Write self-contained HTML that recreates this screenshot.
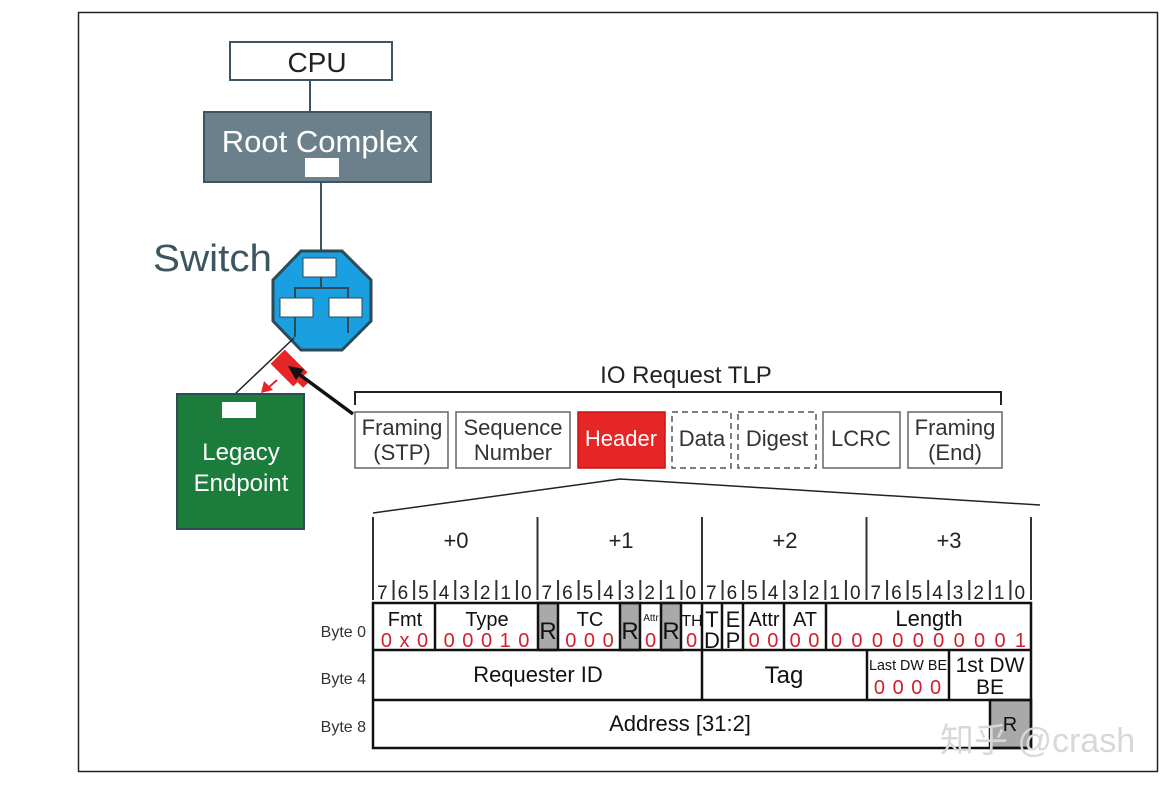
<!DOCTYPE html>
<html><head><meta charset="utf-8"><style>
html,body{margin:0;padding:0;background:#fff;width:1175px;height:787px;overflow:hidden}
svg{display:block;font-family:"Liberation Sans",sans-serif}
</style></head><body>
<svg id="s" width="1175" height="787" viewBox="0 0 1175 787" xmlns="http://www.w3.org/2000/svg">
<rect x="78.5" y="12.5" width="1079" height="759" fill="#fff" stroke="#222" stroke-width="1.5"/>
<rect x="230" y="42" width="162" height="38" fill="#fff" stroke="#3d5560" stroke-width="2"/>
<text x="317" y="72" font-size="28" text-anchor="middle" fill="#222">CPU</text>
<line x1="310" y1="80" x2="310" y2="112" stroke="#3d5560" stroke-width="2"/>
<rect x="204" y="112" width="227" height="70" fill="#6c808b" stroke="#3d5560" stroke-width="2"/>
<text x="320" y="152" font-size="31" text-anchor="middle" fill="#fff">Root Complex</text>
<rect x="305" y="158" width="34" height="19" fill="#fff"/>
<line x1="321" y1="182" x2="321" y2="252" stroke="#3d5560" stroke-width="2"/>
<text x="153" y="271" font-size="38" fill="#3d5560" textLength="119" lengthAdjust="spacingAndGlyphs">Switch</text>
<polygon points="301,251 342,251 371,280 371,321 342,350 301,350 273,321 273,280" fill="#1a9fe0" stroke="#2d4a55" stroke-width="3"/>
<rect x="303" y="258" width="33" height="19" fill="#fff" stroke="#2d4a55"/>
<line x1="321" y1="277" x2="321" y2="288" stroke="#2d4a55" stroke-width="2"/>
<polyline points="295,337 295,288 348,288 348,333" fill="none" stroke="#2d4a55" stroke-width="2"/>
<rect x="280" y="298" width="33" height="19" fill="#fff" stroke="#2d4a55"/>
<rect x="329" y="298" width="33" height="19" fill="#fff" stroke="#2d4a55"/>
<line x1="294" y1="338" x2="235" y2="394" stroke="#222" stroke-width="1.5"/>
<g transform="translate(289,368) rotate(-45)">
<rect x="-10" y="-16" width="20" height="32" fill="#e52526"/>
<rect x="-4" y="16" width="8" height="8" fill="#e52526"/>
</g>
<line x1="277" y1="380" x2="268" y2="388" stroke="#e52526" stroke-width="2"/>
<polygon points="261,393 264,381 273,390" fill="#e52526"/>
<line x1="353" y1="414" x2="296" y2="372" stroke="#111" stroke-width="3.5"/>
<polygon points="288,366 304,369 296,380" fill="#111"/>
<rect x="177" y="394" width="127" height="135" fill="#1b7c3c" stroke="#2d4a55" stroke-width="2"/>
<rect x="222" y="402" width="34" height="16" fill="#fff"/>
<text x="241" y="460" font-size="24" text-anchor="middle" fill="#fff">Legacy</text>
<text x="241" y="491" font-size="24" text-anchor="middle" fill="#fff">Endpoint</text>
<text x="686" y="383" font-size="24" text-anchor="middle" fill="#222">IO Request TLP</text>
<polyline points="355,405 355,392 1001,392 1001,405" fill="none" stroke="#222" stroke-width="2"/>
<g font-size="22" text-anchor="middle" fill="#333" stroke-width="1.5">
<rect x="355" y="412" width="93" height="56" fill="#fff" stroke="#666"/>
<text x="402" y="435">Framing</text><text x="402" y="460">(STP)</text>
<rect x="456" y="412" width="114" height="56" fill="#fff" stroke="#666"/>
<text x="513" y="435">Sequence</text><text x="513" y="460">Number</text>
<rect x="578" y="412" width="87" height="56" fill="#e52526" stroke="#c11"/>
<text x="621" y="446" fill="#fff">Header</text>
<rect x="672" y="412" width="59" height="56" fill="#fff" stroke="#555" stroke-dasharray="6,4"/>
<text x="702" y="446">Data</text>
<rect x="738" y="412" width="78" height="56" fill="#fff" stroke="#555" stroke-dasharray="6,4"/>
<text x="777" y="446">Digest</text>
<rect x="823" y="412" width="77" height="56" fill="#fff" stroke="#666"/>
<text x="861" y="446">LCRC</text>
<rect x="908" y="412" width="94" height="56" fill="#fff" stroke="#666"/>
<text x="955" y="435">Framing</text><text x="955" y="460">(End)</text>
</g>
<polyline points="373,513 620,479 1040,505" fill="none" stroke="#222" stroke-width="1.5"/>
<g id="ticks" stroke="#333" stroke-width="2"></g>
<g id="bits" font-size="19" fill="#222"></g>
<g font-size="22" text-anchor="middle" fill="#222">
<text x="456" y="548">+0</text><text x="621" y="548">+1</text><text x="785" y="548">+2</text><text x="949" y="548">+3</text>
</g>
<g stroke="#111" stroke-width="2.5">
<rect x="538" y="603" width="20" height="47" fill="#a9a9a9"/>
<rect x="620" y="603" width="20" height="47" fill="#a9a9a9"/>
<rect x="661" y="603" width="20" height="47" fill="#a9a9a9"/>
<rect x="990" y="700" width="41" height="48" fill="#a9a9a9"/>
<rect x="373" y="603" width="658" height="145" fill="none"/>
<line x1="373" y1="650" x2="1031" y2="650"/><line x1="373" y1="700" x2="1031" y2="700"/>
<line x1="435" y1="603" x2="435" y2="650"/><line x1="702" y1="603" x2="702" y2="700"/>
<line x1="722" y1="603" x2="722" y2="650"/><line x1="743" y1="603" x2="743" y2="650"/>
<line x1="784" y1="603" x2="784" y2="650"/><line x1="826" y1="603" x2="826" y2="650"/>
<line x1="867" y1="650" x2="867" y2="700"/><line x1="949" y1="650" x2="949" y2="700"/>
</g>
<g font-size="20" fill="#111" text-anchor="middle">
<text x="405" y="626">Fmt</text><text x="487" y="626">Type</text><text x="548" y="639" font-size="24">R</text>
<text x="590" y="626">TC</text><text x="630" y="639" font-size="24">R</text><text x="671" y="639" font-size="24">R</text>
<text x="651" y="621" font-size="10">Attr</text><text x="692" y="626" font-size="16">TH</text>
<text x="712" y="627" font-size="22">T</text><text x="712" y="648" font-size="22">D</text><text x="733" y="627" font-size="22">E</text><text x="733" y="648" font-size="22">P</text>
<text x="764" y="626">Attr</text><text x="805" y="626">AT</text><text x="929" y="626" font-size="22">Length</text>
<text x="538" y="682" font-size="22">Requester ID</text><text x="784" y="683" font-size="24">Tag</text>
<text x="908" y="670" font-size="15" textLength="78" lengthAdjust="spacingAndGlyphs">Last DW BE</text>
<text x="990" y="672" font-size="21">1st DW</text><text x="990" y="694" font-size="21">BE</text>
<text x="680" y="731" font-size="22">Address [31:2]</text><text x="1010" y="731">R</text>
</g>
<g font-size="20" fill="#d0202e" text-anchor="middle" letter-spacing="1">
<text x="405" y="647">0 x 0</text><text x="487" y="647">0 0 0 1 0</text><text x="590" y="647">0 0 0</text>
<text x="651" y="647">0</text><text x="692" y="647">0</text><text x="764" y="647">0 0</text><text x="805" y="647">0 0</text>
<text x="929" y="647" textLength="196" lengthAdjust="spacing">0000000001</text><text x="908" y="694">0 0 0 0</text>
</g>
<g font-size="16" fill="#333" text-anchor="end">
<text x="366" y="637">Byte 0</text><text x="366" y="684">Byte 4</text><text x="366" y="732">Byte 8</text>
</g>
<text x="940" y="752" font-size="34" fill="#d8d8d8" font-family="Liberation Sans,Noto Sans CJK SC,sans-serif">知乎 @crash</text>
</svg>
<script>
var t=document.getElementById('ticks'),b=document.getElementById('bits'),ns='http://www.w3.org/2000/svg';
for(var i=0;i<=32;i++){var x=373+i*20.5625;var big=(i%8==0);var l=document.createElementNS(ns,'line');
l.setAttribute('x1',x);l.setAttribute('x2',x);l.setAttribute('y1',big?517:580);l.setAttribute('y2',600);t.appendChild(l);
if(i<32){var tx=document.createElementNS(ns,'text');tx.setAttribute('x',x+4);tx.setAttribute('y',599);tx.textContent=7-(i%8);b.appendChild(tx);}}
</script>
</body></html>
